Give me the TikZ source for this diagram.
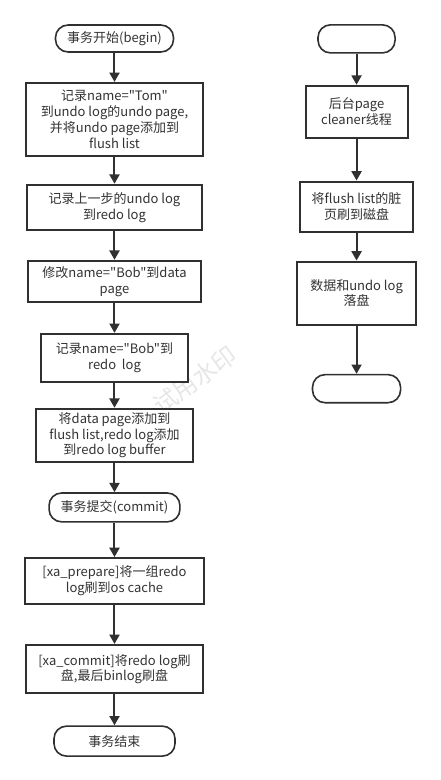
\documentclass[tikz,border=0pt]{standalone}
\usepackage{fontspec}
\setmainfont{Noto Sans CJK SC}[Ligatures=TeXOff]
\usetikzlibrary{arrows.meta, positioning}
\definecolor{linegray}{HTML}{303030}
\definecolor{textgray}{HTML}{333333}
\definecolor{markgray}{HTML}{E6E6E6}
\tikzset{
	stepbox/.style={draw=linegray, rectangle, line width=1.5pt, inner sep=2pt, align=center, fill=white, text=textgray, font=\fontsize{9.75pt}{11.8pt}\selectfont},
	terminal/.style={draw=linegray, rectangle, rounded corners=0.33cm, line width=1.2pt, inner sep=2pt, align=center, fill=white, text=textgray, font=\fontsize{9.75pt}{11.8pt}\selectfont},
	% faint mark behind the left column
	watermark/.style={text=markgray, rotate=36, font=\fontsize{18pt}{18pt}\selectfont},
}

\begin{document}
\begin{tikzpicture}[node distance=2cm]
	\useasboundingbox (0,0) rectangle (11.598,-20.56);
	\node (mark) [watermark] at (5.14,-10.02) {试用水印};

	% main transaction flow
	\node (begin) [terminal, minimum width=3.11cm, minimum height=0.71cm] at (3.018,-1.015) {事务开始(begin)};
	\node (undo) [stepbox, below of=begin, yshift=-0.13cm, minimum width=4.69cm, minimum height=1.92cm] {记录name="Tom"\\到undo log的undo page,\\并将undo page添加到\\flush list};
	\node (redoundo) [stepbox, below of=undo, yshift=-0.32cm, minimum width=4.59cm, minimum height=1.19cm] {记录上一步的undo log\\到redo log};
	\node (modify) [stepbox, below of=redoundo, yshift=0.05cm, minimum width=4.56cm, minimum height=1.08cm] {修改name="Bob"到data\\page};
	\node (redobob) [stepbox, below of=modify, yshift=-0.02cm, minimum width=3.90cm, minimum height=1.27cm] {记录name="Bob"到\\redo~ log};
	\node (flush) [stepbox, below of=redobob, yshift=-0.04cm, minimum width=4.14cm, minimum height=1.40cm] {将data page添加到\\flush list,redo log添加\\到redo log buffer};
	\node (commit) [terminal, below of=flush, yshift=0.1cm, minimum width=3.45cm, minimum height=0.76cm] {事务提交(commit)};
	\node (prepare) [stepbox, below of=commit, yshift=0.06cm, minimum width=4.72cm, minimum height=1.21cm] {[xa\_prepare]将一组redo\\log刷到os cache};
	\node (xacommit) [stepbox, below of=prepare, yshift=-0.32cm, minimum width=4.67cm, minimum height=1.27cm] {[xa\_commit]将redo log刷\\盘,最后binlog刷盘};
	\node (finish) [terminal, below of=xacommit, yshift=0.1cm, minimum width=3.19cm, minimum height=0.79cm] {事务结束};

	% page cleaner flow
	\node (ctop) [terminal, right of=begin, xshift=4.38cm, yshift=-0.01cm, minimum width=2.03cm, minimum height=0.74cm] {};
	\node (cleaner) [stepbox, below of=ctop, yshift=0.08cm, minimum width=2.69cm, minimum height=1.37cm] {后台page\\cleaner线程};
	\node (dirty) [stepbox, below of=cleaner, yshift=-0.5cm, minimum width=2.98cm, minimum height=1.32cm] {将flush list的脏\\页刷到磁盘};
	\node (disk) [stepbox, below of=dirty, yshift=-0.28cm, minimum width=3.14cm, minimum height=1.66cm] {数据和undo log\\落盘};
	\node (cbottom) [terminal, below of=disk, yshift=-0.52cm, minimum width=2.32cm, minimum height=0.74cm] {};

	\begin{scope}[line width=1.5pt, linegray, ->, >={Triangle[length=7pt, width=7.5pt]}]
		\draw (begin) -- (undo);
		\draw (undo) -- (redoundo);
		\draw (redoundo) -- (modify);
		\draw (modify) -- (redobob);
		\draw (redobob) -- (flush);
		\draw (flush) -- (commit);
		\draw (commit) -- (prepare);
		\draw (prepare) -- (xacommit);
		\draw (xacommit) -- (finish);

		\draw (ctop) -- (cleaner);
		\draw (cleaner) -- (dirty);
		\draw (dirty) -- (disk);
		\draw (disk) -- (cbottom);
	\end{scope}
\end{tikzpicture}
\end{document}
